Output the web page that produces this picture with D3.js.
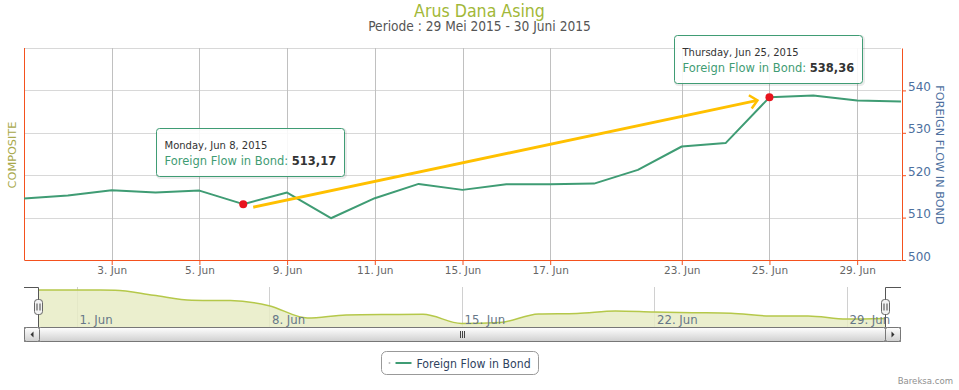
<!DOCTYPE html>
<html>
<head>
<meta charset="utf-8">
<script src="https://cdn.jsdelivr.net/npm/d3@7"></script>
<style>
  body { margin: 0; background: #fff; }
  svg { display: block; }
  .narrow { font-family: "Liberation Sans Narrow", "DejaVu Sans Condensed", sans-serif; }
  .ui { font-family: "DejaVu Sans", Verdana, sans-serif; }
</style>
</head>
<body>
<svg width="959" height="390"></svg>
<script>
// trading days shown in the main plot
const dates = ["2015-06-01","2015-06-02","2015-06-03","2015-06-04","2015-06-05",
  "2015-06-08","2015-06-09","2015-06-10","2015-06-11","2015-06-12",
  "2015-06-15","2015-06-16","2015-06-17","2015-06-18","2015-06-19",
  "2015-06-23","2015-06-24","2015-06-25","2015-06-26","2015-06-29","2015-06-30"];
// Foreign Flow in Bond (right axis)
const flowValues = [514.48, 515.19, 516.47, 515.90, 516.37, 513.17, 515.90, 509.85, 514.58, 517.95,
  516.54, 517.88, 517.88, 518.02, 521.26, 526.77, 527.57, 538.36, 538.81, 537.63, 537.40];
const xTicks = ["2015-06-03","2015-06-05","2015-06-09","2015-06-11","2015-06-15",
  "2015-06-17","2015-06-23","2015-06-25","2015-06-29"];
const yTicks = [500, 510, 520, 530, 540, 550];
const yLabelTicks = [500, 510, 520, 530, 540];
// points with a tooltip open
const highlighted = ["2015-06-08", "2015-06-25"];

// navigator series (full period)
const navDates = ["2015-05-29","2015-06-01","2015-06-02","2015-06-03","2015-06-04","2015-06-05",
  "2015-06-08","2015-06-09","2015-06-10","2015-06-11","2015-06-12",
  "2015-06-15","2015-06-16","2015-06-17","2015-06-18","2015-06-19",
  "2015-06-22","2015-06-23","2015-06-24","2015-06-25","2015-06-26","2015-06-29","2015-06-30"];
const navValues = [5220, 5220, 5218, 5150, 5082, 5079, 5010, 4845, 4885, 4892, 4894,
  4771, 4784, 4898, 4905, 4939, 4925, 4916, 4908, 4872, 4872, 4831, 4838];
const navTicks = ["2015-06-01","2015-06-08","2015-06-15","2015-06-22","2015-06-29"];

const parse = d3.timeParse("%Y-%m-%d");
const tickFmt = d3.timeFormat("%-d. %b");
const tipFmt = d3.timeFormat("%A, %b %-d, %Y");
const numFmt = v => d3.format(".2f")(v).replace(".", ",");

const svg = d3.select("svg");
const orange = "#f4511e";
const green = "#3f9c74";

// title
svg.append("text").attr("class", "narrow")
  .attr("x", 479.5).attr("y", 17).attr("text-anchor", "middle")
  .style("font-size", "17.6px").style("fill", "#a2b838")
  .text("Arus Dana Asing");
svg.append("text").attr("class", "narrow")
  .attr("x", 479.5).attr("y", 31).attr("text-anchor", "middle")
  .style("font-size", "13.6px").style("fill", "#555")
  .text("Periode : 29 Mei 2015 - 30 Juni 2015");

// main plot
const margin = {top: 48, left: 24};
const innerWidth = 877, innerHeight = 212;
const data = dates.map((d, i) => ({date: d, value: flowValues[i]}));

const xScale = d3.scalePoint().domain(dates).range([0, innerWidth]);
const yScale = d3.scaleLinear().domain([500, 550]).range([innerHeight, 0]);

const g = svg.append("g").attr("transform", `translate(${margin.left}, ${margin.top})`);

// horizontal grid
g.selectAll(".hgrid").data(yTicks).enter().append("line")
  .attr("class", "hgrid")
  .attr("x1", 0).attr("x2", innerWidth)
  .attr("y1", d => Math.round(yScale(d)) + 0.5).attr("y2", d => Math.round(yScale(d)) + 0.5)
  .style("stroke", "#d8d8d8");
// vertical grid
g.selectAll(".vgrid").data(xTicks).enter().append("line")
  .attr("class", "vgrid")
  .attr("x1", d => Math.round(xScale(d)) + 0.5).attr("x2", d => Math.round(xScale(d)) + 0.5)
  .attr("y1", 0).attr("y2", innerHeight)
  .style("stroke", "#c0c0c0");

// bottom axis
const xAxis = g.append("g").attr("class", "ui")
  .attr("transform", `translate(0, ${innerHeight})`)
  .call(d3.axisBottom(xScale).tickValues(xTicks).tickFormat(d => tickFmt(parse(d)))
    .tickSize(5).tickPadding(2).tickSizeOuter(0));
xAxis.select(".domain").style("stroke", orange);
xAxis.selectAll(".tick line").style("stroke", orange);
xAxis.selectAll("text").style("font-size", "10.5px").style("fill", "#666")
  .style("font-family", "DejaVu Sans, Verdana, sans-serif");

// left axis (no labels)
g.append("line").attr("x1", 0.5).attr("x2", 0.5).attr("y1", 0).attr("y2", innerHeight)
  .style("stroke", orange);
svg.append("text").attr("class", "ui")
  .attr("transform", "translate(16, 155) rotate(-90)")
  .attr("text-anchor", "middle")
  .style("font-size", "11.3px").style("fill", "#a8a84a")
  .text("COMPOSITE");

// right axis
const yAxis = g.append("g").attr("class", "ui")
  .attr("transform", `translate(${innerWidth + 1}, 0)`)
  .call(d3.axisRight(yScale).tickValues(yLabelTicks).tickSize(4).tickPadding(2).tickSizeOuter(0));
yAxis.select(".domain").style("stroke", orange);
yAxis.selectAll(".tick line").style("stroke", orange);
yAxis.selectAll("text").attr("dy", "0").style("font-size", "12px").style("fill", "#4d6f9e")
  .style("font-family", "DejaVu Sans, Verdana, sans-serif");
svg.append("text").attr("class", "ui")
  .attr("transform", "translate(936, 155) rotate(90)")
  .attr("text-anchor", "middle")
  .style("font-size", "11.3px").style("fill", "#4d6f9e")
  .text("FOREIGN FLOW IN BOND");

// series line
const line = d3.line().x(d => xScale(d.date)).y(d => yScale(d.value));
g.append("path").datum(data)
  .attr("d", line)
  .style("fill", "none").style("stroke", green).style("stroke-width", 2)
  .style("stroke-linejoin", "round");

// annotation arrow between the two highlighted points
const hp = highlighted.map(h => data.find(d => d.date === h));
const x0 = xScale(hp[0].date) + 10, y0 = yScale(hp[0].value) + 3;
const x1 = xScale(hp[1].date) - 12, y1 = yScale(hp[1].value) + 3;
const ang = Math.atan2(y1 - y0, x1 - x0);
const head = [ang + Math.PI - 0.75, ang + Math.PI + 0.75]
  .map(a => [x1 + 10 * Math.cos(a), y1 + 10 * Math.sin(a)]);
g.append("line").attr("x1", x0).attr("y1", y0).attr("x2", x1).attr("y2", y1)
  .style("stroke", "#ffc000").style("stroke-width", 3);
g.append("path")
  .attr("d", `M${head[0][0]},${head[0][1]}L${x1},${y1}L${head[1][0]},${head[1][1]}`)
  .style("fill", "none").style("stroke", "#ffc000").style("stroke-width", 2.5)
  .style("stroke-linejoin", "miter");

// markers
g.selectAll(".marker").data(hp).enter().append("circle")
  .attr("class", "marker")
  .attr("cx", d => xScale(d.date)).attr("cy", d => yScale(d.value)).attr("r", 4)
  .style("fill", "#e8141e");

// tooltips (offset from their point)
const tipOffsets = [[-87, -76], [-95, -62]];
hp.forEach((d, i) => {
  const tx = Math.round(xScale(d.date) + tipOffsets[i][0]) + 0.5;
  const ty = Math.round(yScale(d.value) + tipOffsets[i][1]) + 0.5;
  const tip = g.append("g").attr("transform", `translate(${tx}, ${ty})`).attr("class", "ui");
  const shadow = tip.append("rect").attr("x", 1).attr("y", 1).attr("rx", 3)
    .style("fill", "none").style("stroke", "rgba(0,0,0,0.08)").style("stroke-width", 3);
  const box = tip.append("rect").attr("rx", 3)
    .style("fill", "rgba(255,255,255,0.88)").style("stroke", green).style("stroke-width", 1);
  tip.append("text").attr("x", 8).attr("y", 20)
    .style("font-size", "10px").style("fill", "#333")
    .text(tipFmt(parse(d.date)));
  const t2 = tip.append("text").attr("x", 8).attr("y", 36);
  t2.append("tspan").style("font-size", "11.5px").style("fill", green).text("Foreign Flow in Bond: ");
  t2.append("tspan").style("font-size", "11.5px").style("font-weight", "bold").style("fill", "#333")
    .text(numFmt(d.value));
  const w = Math.ceil(t2.node().getComputedTextLength()) + 16;
  box.attr("width", w).attr("height", 48);
  shadow.attr("width", w).attr("height", 48);
});

// navigator
const navData = navDates.map((d, i) => ({date: d, value: navValues[i]}));
const navX = d3.scalePoint().domain(navDates).range([38, 885]);
const navY = d3.scaleLinear().domain([4724, 5220]).range([327, 290]);
const nav = svg.append("g");
nav.selectAll(".navgrid").data(navTicks).enter().append("line")
  .attr("x1", d => Math.round(navX(d)) + 0.5).attr("x2", d => Math.round(navX(d)) + 0.5)
  .attr("y1", 287).attr("y2", 327)
  .style("stroke", "#d0d0d0");
nav.append("path").datum(navData)
  .attr("d", d3.area().curve(d3.curveMonotoneX)
    .x(d => navX(d.date)).y0(327).y1(d => navY(d.value)))
  .style("fill", "#e8ecc6").style("fill-opacity", 0.85);
nav.append("path").datum(navData)
  .attr("d", d3.line().curve(d3.curveMonotoneX)
    .x(d => navX(d.date)).y(d => navY(d.value)))
  .style("fill", "none").style("stroke", "#b5c84a").style("stroke-width", 1.5);
nav.selectAll(".navlabel").data(navTicks).enter().append("text")
  .attr("class", "narrow")
  .attr("x", d => navX(d) + 3).attr("y", 324)
  .style("font-size", "13px").style("fill", "#667788")
  .text(d => tickFmt(parse(d)));
// outline around the (full) selection
nav.append("path")
  .attr("d", `M24,287.5H${navX(navDates[0]) + 0.5}V327M${navX(navDates[navDates.length - 1]) + 0.5},327V287.5H901`)
  .style("fill", "none").style("stroke", "#555");

// scrollbar
const defs = svg.append("defs");
const grad = defs.append("linearGradient").attr("id", "sb").attr("x1", 0).attr("x2", 0).attr("y1", 0).attr("y2", 1);
grad.append("stop").attr("offset", "0%").attr("stop-color", "#ffffff");
grad.append("stop").attr("offset", "100%").attr("stop-color", "#cfcfcf");
const sbY = 327.5, sbH = 14;
svg.append("rect").attr("x", 24.5).attr("y", sbY).attr("width", 876).attr("height", sbH)
  .style("fill", "#eee").style("stroke", "#888");
svg.append("rect").attr("x", 38.5).attr("y", sbY).attr("width", 847).attr("height", sbH).attr("rx", 2)
  .style("fill", "url(#sb)").style("stroke", "#777");
[[24.5, -1], [885.5, 1]].forEach(([bx, dir]) => {
  svg.append("rect").attr("x", bx).attr("y", sbY).attr("width", 15).attr("height", sbH).attr("rx", 2)
    .style("fill", "url(#sb)").style("stroke", "#777");
  const cx = bx + 7.5, cy = sbY + 7;
  svg.append("path")
    .attr("d", `M${cx - 1.5 * dir},${cy - 3}L${cx + 1.5 * dir},${cy}L${cx - 1.5 * dir},${cy + 3}Z`)
    .style("fill", "#333");
});
[-2, 0, 2].forEach(o => {
  svg.append("line").attr("x1", 462.5 + o).attr("x2", 462.5 + o).attr("y1", 331).attr("y2", 338)
    .style("stroke", "#444");
});

// navigator handles
[navX(navDates[0]), navX(navDates[navDates.length - 1])].forEach(hx => {
  const h = Math.round(hx) + 0.5;
  svg.append("rect").attr("x", h - 4).attr("y", 299.5).attr("width", 8).attr("height", 15).attr("rx", 3)
    .style("fill", "#f2f2f2").style("stroke", "#666");
  [-1.5, 1.5].forEach(o => {
    svg.append("line").attr("x1", h + o).attr("x2", h + o).attr("y1", 303.5).attr("y2", 310.5)
      .style("stroke", "#444");
  });
});

// legend
const legend = svg.append("g").attr("transform", "translate(381.5, 351.5)");
legend.append("rect").attr("width", 157).attr("height", 23).attr("rx", 5)
  .style("fill", "#fff").style("stroke", "#999");
legend.append("circle").attr("cx", 8).attr("cy", 11.5).attr("r", 1).style("fill", "#bbb");
legend.append("line").attr("x1", 14).attr("x2", 30).attr("y1", 11.5).attr("y2", 11.5)
  .style("stroke", green).style("stroke-width", 2);
legend.append("text").attr("class", "narrow").attr("x", 35).attr("y", 16)
  .style("font-size", "12.2px").style("fill", "#2f4360")
  .text("Foreign Flow in Bond");

// credits
svg.append("text").attr("class", "narrow")
  .attr("x", 953).attr("y", 384).attr("text-anchor", "end")
  .style("font-size", "9.5px").style("fill", "#909090")
  .text("Bareksa.com");
</script>
</body>
</html>
